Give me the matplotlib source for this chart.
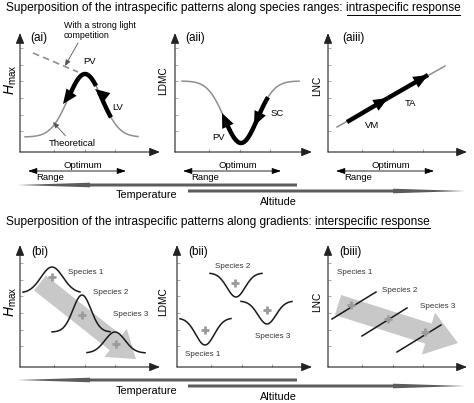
import numpy as np
import matplotlib.pyplot as plt
from matplotlib.patches import FancyArrowPatch, FancyArrow, Polygon

plt.rcParams['font.family'] = ['Liberation Sans', 'DejaVu Sans']
plt.rcParams['mathtext.fontset'] = 'custom'
plt.rcParams['mathtext.rm'] = 'Liberation Sans'
plt.rcParams['mathtext.it'] = 'Liberation Sans:italic'

FIG_W, FIG_H = 474, 403
GRAY = '#8f8f8f'
BAND = '#c8c8c8'
PLUS = '#9b9b9b'
BAR = '#5c5c5c'

# panel boxes in pixels: left, y of x-axis, width, height
top_boxes = [(20, 152, 140, 119), (175, 152, 137, 119), (328, 152, 139, 119)]
bot_boxes = [(20, 367, 140, 122), (177, 367, 135, 122), (328, 367, 139, 122)]
tick_x = [34, 65, 95]
tick_y = [21, 37, 54, 71, 87, 104]

top_tags = ['(ai)', '(aii)', '(aiii)']
bot_tags = ['(bi)', '(bii)', '(biii)']
tag_left = [10, 10, 14]
top_ylabels = [(r'$\mathit{H}_{\mathrm{max}}$', 11, 80), ('LDMC', 163, 81), ('LNC', 317, 86)]
bot_ylabels = [(r'$\mathit{H}_{\mathrm{max}}$', 11, 302), ('LDMC', 163, 302), ('LNC', 317, 302)]

# bell curves: x from, x to, centre, amplitude, width, baseline
ai_curve = (5, 118, 65, 63, 17, 15)
ai_light = ([13, 58], [99, 80])
ai_pv = (76, 50, (43, 48))
ai_lv = (91, 79, (75, 63))

aii_curve = (7, 124, 66, -62, 16.5, 71)
aii_sc = (93, 83, (79, 26))
aii_pv = (82, 52, (47, 39))

aiii_line = ([9, 117], [25, 86])
aiii_arrow_x = [19, 60, 100]
aiii_arrow_y = [30, 54, 77]

# (bi) species bells and means
bi_species = [(3, 60, 32, 26, 11, 74), (32, 90, 62, 37, 9, 35), (67, 125, 95, 21, 10, 14)]
bi_plus_x = [32, 62, 96]
bi_plus_y = [90, 52, 23]
bi_lab_x = [48, 73, 93]
bi_lab_y = [94, 74, 52]
bi_band = (20, 84, 116, 8)

bii_species = [(3, 54, 28, -27, 9.3, 49), (33, 85, 59, -24, 9, 94), (64, 115, 90, -23, 9, 66)]
bii_plus_x = [28, 58, 90]
bii_plus_y = [37, 84, 57]
bii_lab_x = [8, 38, 78]
bii_lab_y = [12, 101, 30]

biii_x0 = [4, 34, 69]
biii_y0 = [48, 31, 15]
biii_x1 = [48, 79, 113]
biii_y1 = [75, 59, 42]
biii_plus_x = [23, 60, 97]
biii_plus_y = [62, 48, 35]
biii_lab_x = [9, 54, 92]
biii_lab_y = [94, 76, 60]
biii_band = (10, 62, 130, 24)

species_names = ['Species 1', 'Species 2', 'Species 3']

# gradient bars (pixels)
temp_span = (18, 90, 297)
alt_span = (188, 393, 465)
bar_rows = [(185, 191, 195, 202), (380, 386, 391, 397)]


def bell(x, mu, amp, sig, base):
    return base + amp * np.exp(-(x - mu) ** 2 / (2 * sig ** 2))


def make_panel(box):
    x0, yb, w, h = box
    ax = fig.add_axes([x0 / FIG_W, 1 - yb / FIG_H, w / FIG_W, h / FIG_H])
    ax.set_xlim(0, w)
    ax.set_ylim(0, h)
    ax.patch.set_visible(False)
    for s in ax.spines.values():
        s.set_visible(False)
    ax.set_xticks(tick_x)
    ax.set_yticks(tick_y)
    ax.tick_params(direction='in', length=2.5, width=0.6, color='#9a9a9a',
                   labelbottom=False, labelleft=False)
    ap = dict(arrowstyle='-|>,head_length=0.7,head_width=0.28', color='#222222',
              lw=0.8, mutation_scale=9, shrinkA=0, shrinkB=0)
    ax.annotate('', xy=(0, h), xytext=(0, 0), arrowprops=ap, annotation_clip=False)
    ax.annotate('', xy=(w, 0), xytext=(0, 0), arrowprops=ap, annotation_clip=False)
    return ax


def draw_bell(ax, p, **kw):
    xs = np.linspace(p[0], p[1], 200)
    ax.plot(xs, bell(xs, *p[2:]), **kw)


def curve_arrow(ax, p, spec):
    xa, xb, tip = spec
    xs = np.linspace(xa, xb, 60)
    ys = bell(xs, *p[2:])
    ax.plot(xs, ys, color='k', lw=3.2, solid_capstyle='butt', zorder=4)
    ax.add_patch(FancyArrowPatch((xs[-1], ys[-1]), tip,
                                 arrowstyle='-|>,head_length=0.75,head_width=0.32',
                                 mutation_scale=14, color='k', lw=0,
                                 shrinkA=0, shrinkB=0, zorder=5))


def band(ax, spec, width, head_width, head_length):
    xa, ya, xb, yb = spec
    ax.add_patch(FancyArrow(xa, ya, xb - xa, yb - ya, width=width, head_width=head_width,
                            head_length=head_length, length_includes_head=True,
                            color=BAND, lw=0, zorder=1))


def pointer(ax, text, xy, xytext, **kw):
    ax.annotate(text, xy=xy, xytext=xytext, fontsize=6.8, ha='center', va='center',
                annotation_clip=False,
                arrowprops=dict(arrowstyle='-|>,head_length=0.6,head_width=0.25',
                                color='#555555', lw=0.6, mutation_scale=6,
                                shrinkA=0, shrinkB=0), **kw)


fig = plt.figure(figsize=(FIG_W / 100, FIG_H / 100), dpi=100)
bg = fig.add_axes([0, 0, 1, 1])
bg.set_xlim(0, FIG_W)
bg.set_ylim(FIG_H, 0)
bg.axis('off')

# titles with underlined end
renderer = fig.canvas.get_renderer()
titles = [('Superposition of the intraspecific patterns along species ranges: ',
           'intraspecific response', 11.5),
          ('Superposition of the intraspecific patterns along gradients: ',
           'interspecific response', 224.5)]
for main, under, yb in titles:
    t1 = bg.text(6, yb, main, fontsize=8.6, va='baseline', ha='left')
    x1 = t1.get_window_extent(renderer).x1
    t2 = bg.text(x1, yb, under, fontsize=8.6, va='baseline', ha='left')
    x2 = t2.get_window_extent(renderer).x1
    bg.plot([x1 + 1, x2], [yb + 3.7, yb + 3.7], color='k', lw=0.7)

# temperature / altitude bars
for ty, ay, tty, aty in bar_rows:
    a, b, c = temp_span
    bg.add_patch(Polygon([(a, ty), (b, ty - 2.3), (b, ty - 1.5), (c, ty - 1.5),
                          (c, ty + 1.5), (b, ty + 1.5), (b, ty + 2.3)],
                         closed=True, color=BAR, lw=0))
    a, b, c = alt_span
    bg.add_patch(Polygon([(a, ay - 1.5), (b, ay - 1.5), (b, ay - 2.3), (c, ay),
                          (b, ay + 2.3), (b, ay + 1.5), (a, ay + 1.5)],
                         closed=True, color=BAR, lw=0))
    bg.text(147, tty, 'Temperature', fontsize=7.8, ha='center', va='center')
    bg.text(278, aty, 'Altitude', fontsize=7.8, ha='center', va='center')

# y labels
for txt, x, y in top_ylabels + bot_ylabels:
    fs = 10 if 'H' in txt else 7.3
    bg.text(x, y, txt, fontsize=fs, rotation=90, ha='center', va='center')

axs_top = [make_panel(b) for b in top_boxes]
axs_bot = [make_panel(b) for b in bot_boxes]

for ax, tag, xl in zip(axs_top, top_tags, tag_left):
    ax.text(xl, 114, tag, fontsize=8.5, ha='left', va='center')
for ax, tag in zip(axs_bot, bot_tags):
    ax.text(11, 115, tag, fontsize=8.5, ha='left', va='center')

# range / optimum arrows under the top panels
for ax in axs_top:
    ax.annotate('', xy=(8, -19), xytext=(106, -19), annotation_clip=False,
                arrowprops=dict(arrowstyle='<|-|>,head_length=0.6,head_width=0.2',
                                color='k', lw=0.6, mutation_scale=9, shrinkA=0, shrinkB=0))
    ax.text(63, -13, 'Optimum', fontsize=6.8, ha='center', va='center', clip_on=False)
    ax.text(30, -25.5, 'Range', fontsize=6.8, ha='center', va='center', clip_on=False)

# (ai)
ax = axs_top[0]
draw_bell(ax, ai_curve, color=GRAY, lw=1.1, zorder=2)
ax.plot(ai_light[0], ai_light[1], color=GRAY, lw=1.2, ls=(0, (4, 2.5)), zorder=2)
curve_arrow(ax, ai_curve, ai_pv)
curve_arrow(ax, ai_curve, ai_lv)
ax.text(70, 91, 'PV', fontsize=6.8, ha='center', va='center')
ax.text(98, 45, 'LV', fontsize=6.8, ha='center', va='center')
pointer(ax, 'Theoretical', (33, 30), (52, 9))
ax.text(44, 121.5, 'With a strong light\ncompetition', fontsize=6.4, ha='left',
        va='center', linespacing=1.1, clip_on=False)
ax.annotate('', xy=(45, 86), xytext=(58, 109), annotation_clip=False,
            arrowprops=dict(arrowstyle='-|>,head_length=0.6,head_width=0.25',
                            color='#555555', lw=0.6, mutation_scale=6, shrinkA=0, shrinkB=0))

# (aii)
ax = axs_top[1]
draw_bell(ax, aii_curve, color=GRAY, lw=1.1, zorder=2)
curve_arrow(ax, aii_curve, aii_sc)
curve_arrow(ax, aii_curve, aii_pv)
ax.text(102, 39, 'SC', fontsize=6.8, ha='center', va='center')
ax.text(44, 14, 'PV', fontsize=6.8, ha='center', va='center')

# (aiii)
ax = axs_top[2]
ax.plot(aiii_line[0], aiii_line[1], color=GRAY, lw=1.1, zorder=2)
for i in range(len(aiii_arrow_x) - 1):
    ax.plot([aiii_arrow_x[i], aiii_arrow_x[i + 1]], [aiii_arrow_y[i], aiii_arrow_y[i + 1]],
            color='k', lw=3.2, solid_capstyle='butt', zorder=4)
    ax.add_patch(FancyArrowPatch((aiii_arrow_x[i], aiii_arrow_y[i]),
                                 (aiii_arrow_x[i + 1], aiii_arrow_y[i + 1]),
                                 arrowstyle='-|>,head_length=0.75,head_width=0.32',
                                 mutation_scale=14, color='k', lw=0,
                                 shrinkA=0, shrinkB=0, zorder=5))
ax.text(44, 27, 'VM', fontsize=6.8, ha='center', va='center')
ax.text(82, 49, 'TA', fontsize=6.8, ha='center', va='center')

# (bi)
ax = axs_bot[0]
band(ax, bi_band, 19, 36, 26)
for p in bi_species:
    draw_bell(ax, p, color='#1a1a1a', lw=1.1, zorder=3)
ax.plot(bi_plus_x, bi_plus_y, '+', color=PLUS, ms=6, mew=2, ls='none', zorder=4)
for x, y, s in zip(bi_lab_x, bi_lab_y, species_names):
    ax.text(x, y, s, fontsize=5.8, color='#333333', ha='left', va='center')

# (bii)
ax = axs_bot[1]
for p in bii_species:
    draw_bell(ax, p, color='#1a1a1a', lw=1.1, zorder=3)
ax.plot(bii_plus_x, bii_plus_y, '+', color=PLUS, ms=6, mew=2, ls='none', zorder=4)
for x, y, s in zip(bii_lab_x, bii_lab_y, species_names):
    ax.text(x, y, s, fontsize=5.8, color='#333333', ha='left', va='center')

# (biii)
ax = axs_bot[2]
band(ax, biii_band, 21, 44, 31)
for xa, ya, xb, yb in zip(biii_x0, biii_y0, biii_x1, biii_y1):
    ax.plot([xa, xb], [ya, yb], color='#1a1a1a', lw=1.1, zorder=3)
ax.plot(biii_plus_x, biii_plus_y, '+', color=PLUS, ms=6, mew=2, ls='none', zorder=4)
for x, y, s in zip(biii_lab_x, biii_lab_y, species_names):
    ax.text(x, y, s, fontsize=5.8, color='#333333', ha='left', va='center')

fig.savefig('out.png', dpi=100)
